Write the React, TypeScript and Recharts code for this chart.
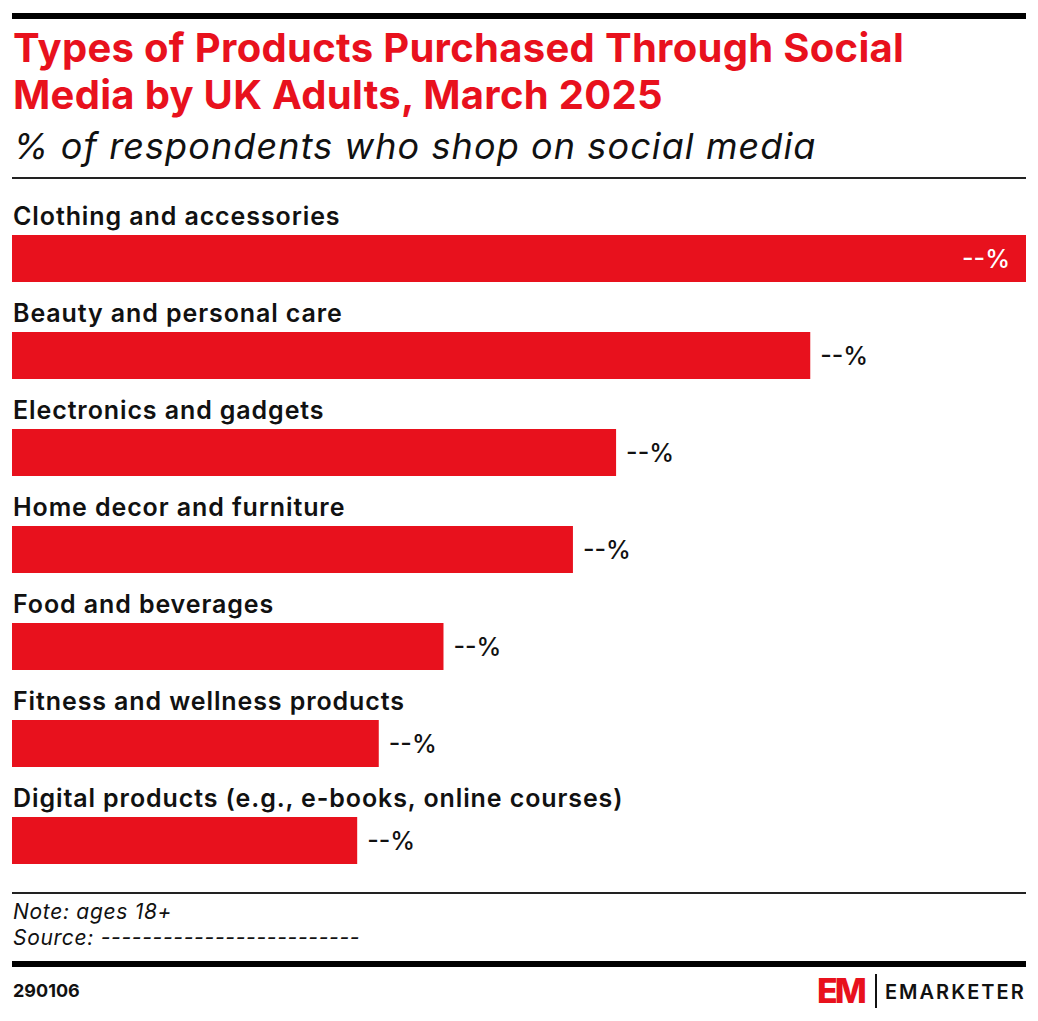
import React from "react";
import { BarChart, Bar, XAxis, YAxis, LabelList } from "recharts";

const categories = [
  "Clothing and accessories",
  "Beauty and personal care",
  "Electronics and gadgets",
  "Home decor and furniture",
  "Food and beverages",
  "Fitness and wellness products",
  "Digital products (e.g., e-books, online courses)",
];
// values are hidden in the source ("--%"); lengths
const shares = [47, 37, 28, 26, 20, 17, 16];
const valueLabels = ["--%", "--%", "--%", "--%", "--%", "--%", "--%"];

const data = categories.map((name, i) => ({
  name,
  share: shares[i],
  label: valueLabels[i],
}));

const RED = "#e8111d";
const FONT = "Inter, 'Noto Sans', sans-serif";

const CategoryLabel = (props: any) => {
  const { x, y, value } = props;
  return (
    <text
      x={x + 1}
      y={y - 10}
      fontSize={25}
      fontWeight={600}
      letterSpacing={0.9}
      fill="#111"
      fontFamily={FONT}
    >
      {value}
    </text>
  );
};

const ValueLabel = (props: any) => {
  const { x, y, width, height, value } = props;
  const inside = width > 900;
  return (
    <text
      x={inside ? x + width - 16 : x + width + 10}
      y={y + height / 2 + 9}
      textAnchor={inside ? "end" : "start"}
      fontSize={25}
      fontWeight={500}
      fill={inside ? "#fff" : "#111"}
      fontFamily={FONT}
    >
      {value}
    </text>
  );
};

export default function App() {
  return (
    <div
      style={{
        position: "absolute",
        left: 0,
        top: 0,
        width: 1038,
        height: 1021,
        background: "#fff",
        fontFamily: FONT,
        overflow: "hidden",
      }}
    >
      <div style={{ position: "absolute", left: 12, top: 13, width: 1014, height: 6, background: "#000" }} />
      <div
        style={{
          position: "absolute",
          left: 13,
          top: 24,
          fontSize: 40,
          fontWeight: 700,
          color: RED,
          lineHeight: "47px",
          letterSpacing: 0.3,
          whiteSpace: "nowrap",
        }}
      >
        Types of Products Purchased Through Social
        <br />
        Media by UK Adults, March 2025
      </div>
      <div
        style={{
          position: "absolute",
          left: 13,
          top: 122,
          fontSize: 36,
          fontStyle: "italic",
          color: "#111",
          lineHeight: "48px",
          letterSpacing: 1.1,
          whiteSpace: "nowrap",
        }}
      >
        % of respondents who shop on social media
      </div>
      <div style={{ position: "absolute", left: 12, top: 177, width: 1014, height: 2, background: "#222" }} />

      <div style={{ position: "absolute", left: 12, top: 180 }}>
        <BarChart
          width={1014}
          height={709}
          data={data}
          layout="vertical"
          margin={{ top: 30, right: 0, bottom: 0, left: 0 }}
          barCategoryGap={50}
        >
          <XAxis type="number" domain={[0, 47]} hide />
          <YAxis type="category" dataKey="name" hide width={0} />
          <Bar dataKey="share" fill={RED} barSize={47} isAnimationActive={false}>
            <LabelList dataKey="name" content={CategoryLabel} />
            <LabelList dataKey="label" content={ValueLabel} />
          </Bar>
        </BarChart>
      </div>

      <div style={{ position: "absolute", left: 12, top: 892, width: 1014, height: 2, background: "#222" }} />
      <div
        style={{
          position: "absolute",
          left: 13,
          top: 899,
          fontSize: 21,
          fontStyle: "italic",
          color: "#111",
          lineHeight: "26px",
          letterSpacing: 0.7,
          whiteSpace: "nowrap",
        }}
      >
        Note: ages 18+
        <br />
        Source: -------------------------
      </div>
      <div style={{ position: "absolute", left: 12, top: 961, width: 1014, height: 6, background: "#000" }} />
      <div
        style={{
          position: "absolute",
          left: 13,
          top: 980,
          fontSize: 18,
          fontWeight: 700,
          color: "#111",
        }}
      >
        290106
      </div>
      <div
        style={{
          position: "absolute",
          left: 817,
          top: 971,
          fontSize: 34,
          fontWeight: 800,
          color: RED,
          letterSpacing: -3,
          lineHeight: "40px",
        }}
      >
        EM
      </div>
      <div style={{ position: "absolute", left: 875, top: 974, width: 2, height: 34, background: "#111" }} />
      <div
        style={{
          position: "absolute",
          left: 885,
          top: 979,
          fontSize: 20,
          fontWeight: 600,
          color: "#111",
          letterSpacing: 2,
          lineHeight: "26px",
          whiteSpace: "nowrap",
        }}
      >
        EMARKETER
      </div>
    </div>
  );
}
